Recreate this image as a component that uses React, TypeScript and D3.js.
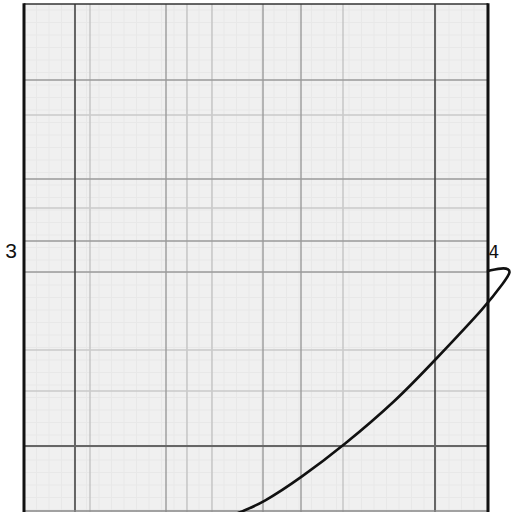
import React from "react";
import * as d3 from "d3";

const xMajorDark = [5.1, 41.1];
const xMajorMid = [14.2, 23.9, 27.7];
const xMajorLight = [6.6, 16.3, 18.8, 31.9];
const yMajorDark = [6.4];
const yMajorMid = [43.0, 33.1, 26.9, 23.8];
const yMajorLight = [39.5, 30.2, 16.0, 11.9];

const curveX = [21.4, 23.9, 27.8, 31.9, 37.3, 41.1, 46.3, 48.0, 48.8, 48.1, 46.4];
const curveY = [-0.3, 0.7, 3.3, 6.4, 11.0, 15.0, 20.5, 22.8, 23.9, 24.3, 23.9];

const leftLabel = "3";
const rightLabel = "4";
const labelValue = 26.0;

export default function App() {
  const W = 512, H = 512;
  const x = d3.scaleLinear().domain([0, 46.4]).range([24, 488]);
  const y = d3.scaleLinear().domain([0, 50.6]).range([510, 4]);
  const minorX = d3.range(0, 46.4, 1.25);
  const minorY = d3.range(0, 50.6, 1.25);
  const pts: [number, number][] = curveX.map((v, i) => [v, curveY[i]]);
  const line = d3
    .line<[number, number]>()
    .x((d) => x(d[0]))
    .y((d) => y(d[1]))
    .curve(d3.curveBasis);

  const vline = (v: number, color: string, w: number, k: string) => (
    <line key={k} x1={x(v)} x2={x(v)} y1={y(50.6)} y2={H} stroke={color} strokeWidth={w} />
  );
  const hline = (v: number, color: string, w: number, k: string) => (
    <line key={k} x1={x(0)} x2={x(46.4)} y1={y(v)} y2={y(v)} stroke={color} strokeWidth={w} />
  );

  return (
    <svg
      width={W}
      height={H}
      style={{ position: "absolute", left: 0, top: 0, display: "block", background: "#fff" }}
    >
      <rect x={x(0)} y={y(50.6)} width={x(46.4) - x(0)} height={H - y(50.6)} fill="#f0f0f0" />
      {minorX.map((v, i) => vline(v, "#e8e8e8", 1, "mx" + i))}
      {minorY.map((v, i) => hline(v, "#e8e8e8", 1, "my" + i))}
      {xMajorLight.map((v, i) => vline(v, "#c0c0c0", 1.3, "xl" + i))}
      {yMajorLight.map((v, i) => hline(v, "#cacaca", 1.3, "yl" + i))}
      {xMajorMid.map((v, i) => vline(v, "#9a9a9a", 1.4, "xm" + i))}
      {yMajorMid.map((v, i) => hline(v, "#9a9a9a", 1.4, "ym" + i))}
      {xMajorDark.map((v, i) => vline(v, "#444", 1.6, "xd" + i))}
      {yMajorDark.map((v, i) => hline(v, "#666", 2, "yd" + i))}
      <line x1={x(0)} x2={x(46.4)} y1={y(50.6)} y2={y(50.6)} stroke="#333" strokeWidth={1.5} />
      <line x1={x(0)} x2={x(46.4)} y1={511} y2={511} stroke="#888" strokeWidth={1.5} />
      <line x1={x(0)} x2={x(0)} y1={y(50.6) - 0.75} y2={H} stroke="#111" strokeWidth={3} />
      <line x1={x(46.4)} x2={x(46.4)} y1={y(50.6) - 0.75} y2={H} stroke="#111" strokeWidth={3} />
      <path d={line(pts) || ""} fill="none" stroke="#111" strokeWidth={2.6} strokeLinecap="round" />
      <text
        x={11}
        y={250}
        textAnchor="middle"
        dominantBaseline="central"
        fontFamily="Liberation Sans, Arial, sans-serif"
        fontSize={21}
        fill="#111"
      >
        {leftLabel}
      </text>
      <text
        x={494}
        y={y(labelValue) + 2}
        textAnchor="middle"
        dominantBaseline="central"
        fontFamily="DejaVu Sans, sans-serif"
        fontSize={17}
        fill="#111"
      >
        {rightLabel}
      </text>
    </svg>
  );
}
